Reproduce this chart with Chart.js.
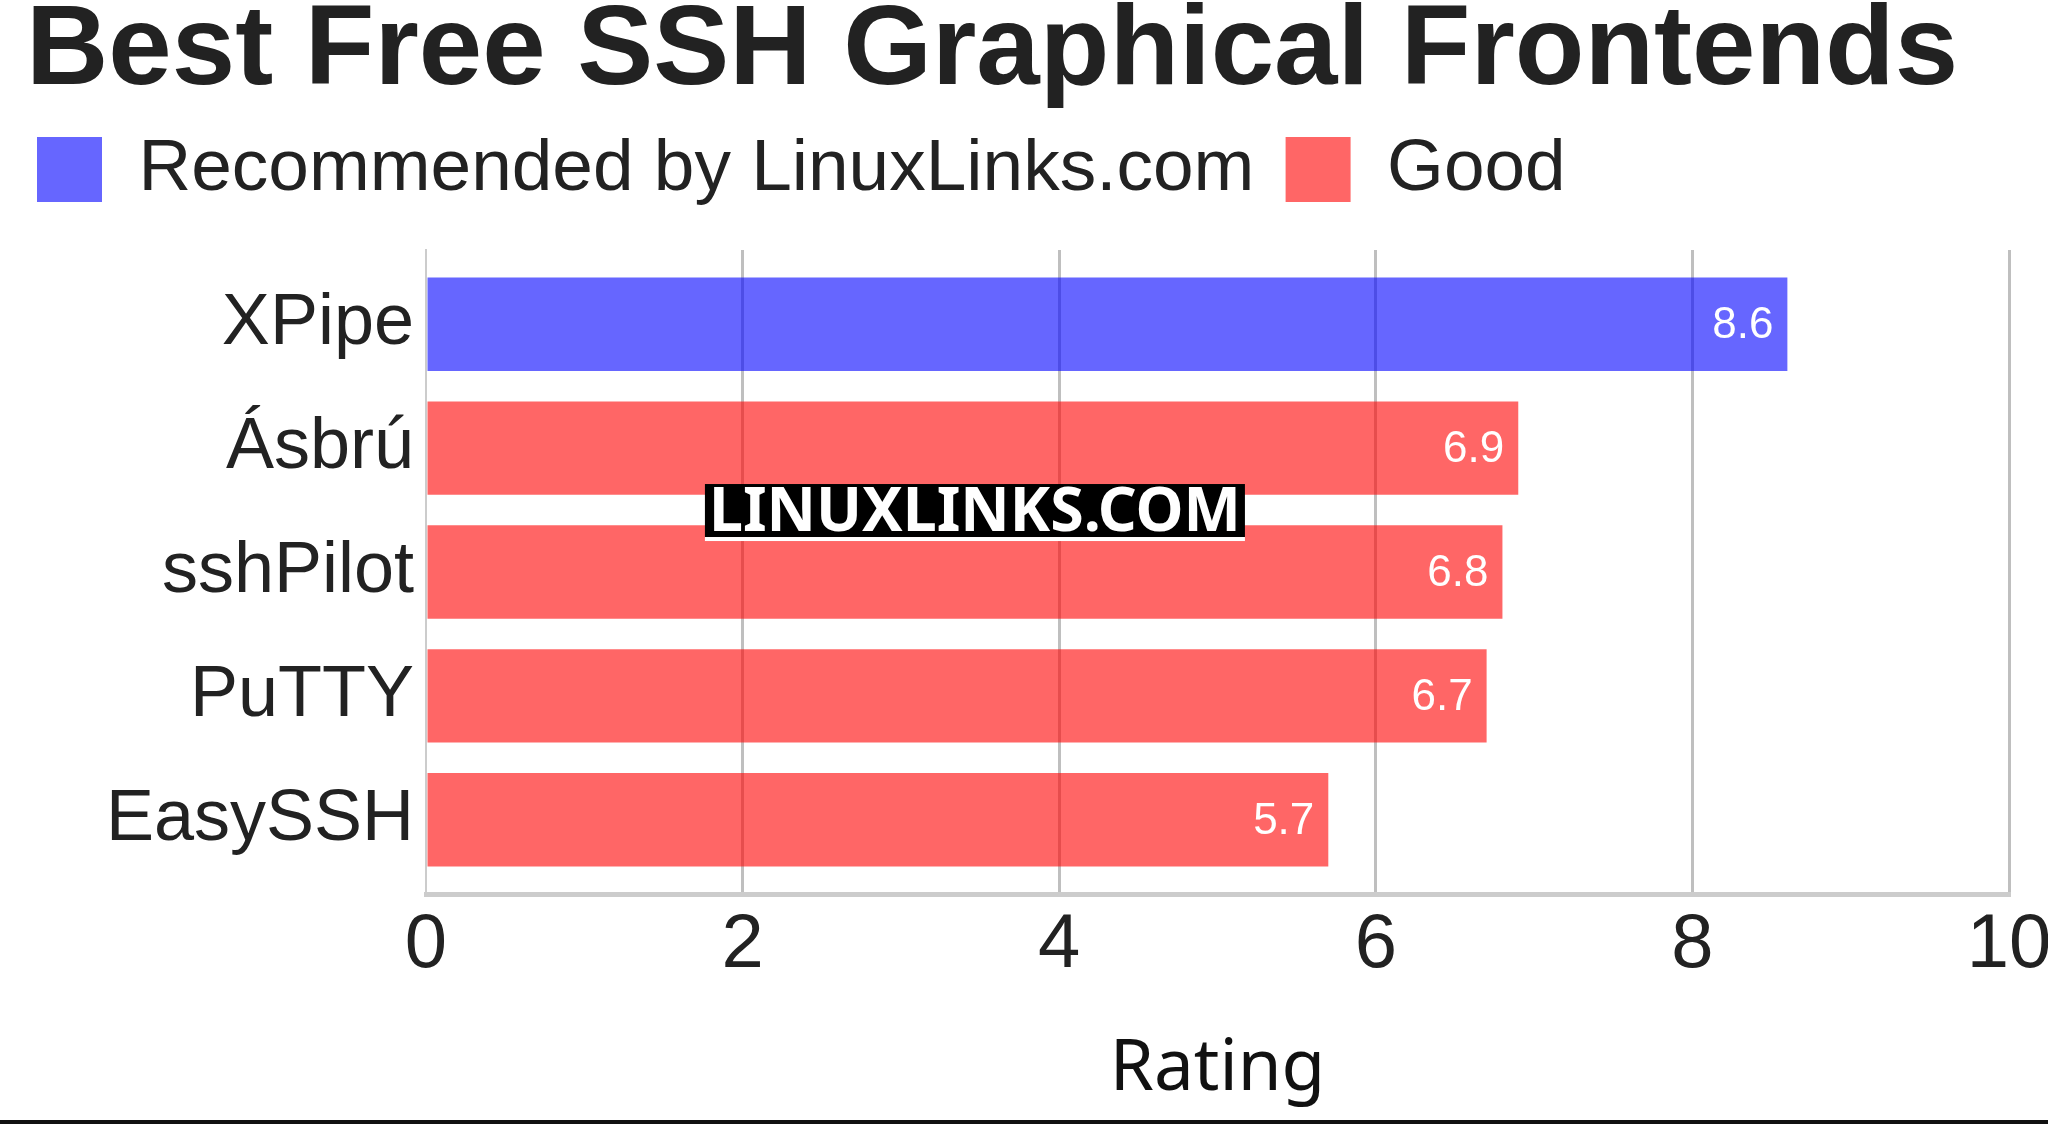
<!DOCTYPE html>
<html>
<head>
<meta charset="utf-8">
<script src="https://cdn.jsdelivr.net/npm/chart.js@4.4.0/dist/chart.umd.min.js"></script>
<style>
  html, body { margin: 0; padding: 0; background: #fff; }
  #wrap { width: 2048px; height: 1120px; border-bottom: 4px solid #111; }
</style>
</head>
<body>
<div id="wrap"><canvas id="chart" width="2048" height="1120"></canvas></div>
<script>
// ---------- Data ----------
const apps = ["XPipe", "Ásbrú", "sshPilot", "PuTTY", "EasySSH"];
const ratings = [8.6, 6.9, 6.8, 6.7, 5.7];
const recommended = [true, false, false, false, false];
const seriesNames = ["Recommended by LinuxLinks.com", "Good"];
const xMin = 0, xMax = 10, xStep = 2;

const FONT = "'Liberation Sans', Arial, Helvetica, sans-serif";

// ---------- Plugins ----------
const valueLabels = {
  id: "valueLabels",
  afterDatasetsDraw(chart) {
    const ctx = chart.ctx;
    ctx.save();
    ctx.font = "44px " + FONT;
    ctx.fillStyle = "#fff";
    ctx.textAlign = "right";
    ctx.textBaseline = "middle";
    chart.data.datasets.forEach((ds, i) => {
      chart.getDatasetMeta(i).data.forEach((bar, j) => {
        if (ds.data[j] == null) return;
        ctx.fillText(ds.data[j].toFixed(1), bar.x - 14, bar.y + 2);
      });
    });
    ctx.restore();
  }
};

const watermark = {
  id: "watermark",
  afterDraw(chart) {
    const { ctx, chartArea: a } = chart;
    const x = a.left + (a.right - a.left) * 0.1762;
    const y = a.top + (a.bottom - a.top) * 0.3634;
    const w = 540, h = 53;
    ctx.save();
    ctx.fillStyle = "#000";
    ctx.fillRect(x, y, w, h);
    ctx.fillStyle = "#fff";
    ctx.fillRect(x, y + h, w, 4);
    ctx.font = "bold 61px 'Noto Sans', 'Open Sans', sans-serif";
    ctx.textAlign = "center";
    ctx.textBaseline = "alphabetic";
    ctx.fillText("LINUXLINKS.COM", x + w / 2, y + 47, w - 8);
    ctx.restore();
  }
};

// ---------- Chart ----------
new Chart(document.getElementById("chart"), {
  type: "bar",
  data: {
    labels: apps,
    datasets: [
      {
        label: seriesNames[0],
        data: ratings.map((v, i) => recommended[i] ? v : null),
        backgroundColor: "rgba(0,0,255,0.6)"
      },
      {
        label: seriesNames[1],
        data: ratings.map((v, i) => recommended[i] ? null : v),
        backgroundColor: "rgba(255,0,0,0.6)"
      }
    ]
  },
  options: {
    indexAxis: "y",
    responsive: false,
    animation: false,
    devicePixelRatio: 1,
    grouped: false,
    barPercentage: 0.943,
    categoryPercentage: 0.8,
    layout: { padding: { left: 26, right: 0, top: 0, bottom: 0 } },
    plugins: {
      title: {
        display: true,
        text: "Best Free SSH Graphical Frontends",
        align: "start",
        color: "#222",
        font: { family: FONT, size: 114, weight: "bold", lineHeight: 1 },
        padding: { top: -4, bottom: 12 }
      },
      legend: {
        display: true,
        align: "start",
        labels: {
          color: "#222",
          font: { family: FONT, size: 73 },
          boxWidth: 65,
          boxHeight: 65,
          padding: 11,
          generateLabels(chart) {
            return chart.data.datasets.map((ds, i) => ({
              text: ds.label + (i === 0 ? " " : ""),
              fillStyle: ds.backgroundColor,
              strokeStyle: ds.backgroundColor,
              lineWidth: 0,
              hidden: false,
              datasetIndex: i,
              fontColor: "#222"
            }));
          }
        }
      },
      tooltip: { enabled: false }
    },
    scales: {
      x: {
        min: xMin,
        max: xMax,
        afterFit(axis) {
          axis.height = 226;
          axis.paddingLeft = 0;
          axis.paddingRight = 39;
        },
        ticks: {
          stepSize: xStep,
          color: "#222",
          font: { family: FONT, size: 76 },
          padding: 6
        },
        grid: {
          color: (c) => c.tick && c.tick.value === 0 ? "rgba(0,0,0,0)" : "rgba(0,0,0,0.25)",
          lineWidth: 3,
          drawTicks: false
        },
        border: { display: true, color: "#ccc", width: 5 },
        title: {
          display: true,
          text: "Rating",
          color: "#111",
          font: { family: "'Noto Sans', sans-serif", size: 71 },
          padding: { top: 0, bottom: 8 }
        }
      },
      // empty strip between legend and plot
      xTop: {
        type: "linear",
        position: "top",
        ticks: { display: false },
        grid: { display: false, drawTicks: false },
        border: { display: false },
        afterFit(axis) {
          axis.height = 34;
          axis.paddingLeft = 0;
          axis.paddingRight = 0;
        }
      },
      y: {
        afterBuildTicks(axis) {
          // a little more room above the first and below the last bar
          axis._startValue -= 0.1;
          axis._valueRange += 0.2;
        },
        afterFit(axis) {
          axis.width = 400;
        },
        ticks: {
          color: "#222",
          font: { family: FONT, size: 72 },
          padding: 12
        },
        grid: { display: false, drawTicks: false },
        border: { display: true, color: "#ccc", width: 2 }
      }
    }
  },
  plugins: [valueLabels, watermark]
});
</script>
</body>
</html>
